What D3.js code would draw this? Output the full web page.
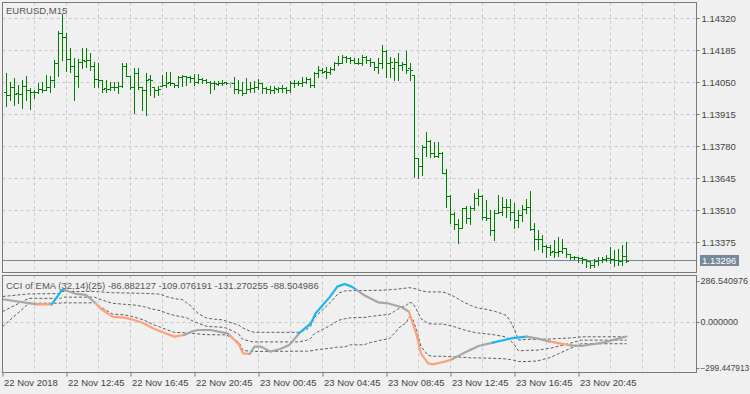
<!DOCTYPE html>
<html>
<head>
<meta charset="utf-8">
<script src="https://cdn.jsdelivr.net/npm/d3@7"></script>
<style>
  body { margin: 0; background: #f0f0f0; }
  svg { display: block; font-family: "Liberation Sans", Arial, sans-serif; }
</style>
</head>
<body>
<svg width="750" height="394"></svg>
<script>
'use strict';

// ---- price data, EURUSD M15, one entry per bar ----
const opens = [
  1.14009,1.13996,1.14031,1.14003,1.14001,1.14034,1.14018,1.14011,1.14009,1.14022,
  1.14018,1.14031,1.14060,1.14131,1.14258,1.14242,1.14148,1.14119,1.14077,1.14137,
  1.14141,1.14144,1.14119,1.14064,1.14060,1.14024,1.14022,1.14030,1.14031,1.14034,
  1.14119,1.14077,1.14031,1.14088,1.14031,1.14018,1.14062,1.14031,1.14018,1.14034,
  1.14039,1.14050,1.14048,1.14039,1.14074,1.14077,1.14074,1.14067,1.14053,1.14063,
  1.14060,1.14053,1.14048,1.14044,1.14046,1.14050,1.14046,1.14046,1.14020,1.14018,
  1.14004,1.14020,1.14027,1.14031,1.14046,1.14025,1.14020,1.14018,1.14023,1.14027,
  1.14025,1.14018,1.14046,1.14048,1.14046,1.14053,1.14063,1.14039,1.14090,1.14102,
  1.14098,1.14095,1.14105,1.14130,1.14133,1.14158,1.14151,1.14144,1.14133,1.14130,
  1.14158,1.14144,1.14137,1.14113,1.14130,1.14183,1.14130,1.14109,1.14137,1.14123,
  1.14127,1.14110,1.14081,1.13731,1.13697,1.13776,1.13802,1.13751,1.13739,1.13753,
  1.13669,1.13570,1.13494,1.13451,1.13434,1.13518,1.13476,1.13518,1.13561,1.13570,
  1.13483,1.13476,1.13427,1.13500,1.13504,1.13525,1.13523,1.13504,1.13469,1.13490,
  1.13514,1.13523,1.13430,1.13391,1.13388,1.13359,1.13354,1.13338,1.13335,1.13338,
  1.13350,1.13326,1.13315,1.13312,1.13308,1.13303,1.13296,1.13279,1.13296,1.13300,
  1.13303,1.13308,1.13303,1.13300,1.13296,1.13317
];
const highs = [
  1.14091,1.14053,1.14068,1.14039,1.14060,1.14077,1.14026,1.14018,1.14047,1.14051,
  1.14081,1.14077,1.14144,1.14268,1.14338,1.14259,1.14195,1.14152,1.14148,1.14196,
  1.14195,1.14174,1.14137,1.14131,1.14060,1.14060,1.14053,1.14053,1.14053,1.14131,
  1.14131,1.14077,1.14110,1.14110,1.14031,1.14089,1.14081,1.14031,1.14034,1.14081,
  1.14095,1.14095,1.14048,1.14077,1.14081,1.14077,1.14077,1.14084,1.14085,1.14067,
  1.14063,1.14057,1.14057,1.14057,1.14060,1.14053,1.14053,1.14074,1.14060,1.14053,
  1.14067,1.14053,1.14057,1.14063,1.14048,1.14029,1.14034,1.14034,1.14031,1.14039,
  1.14031,1.14057,1.14060,1.14057,1.14074,1.14074,1.14067,1.14095,1.14119,1.14109,
  1.14116,1.14116,1.14137,1.14161,1.14165,1.14161,1.14158,1.14151,1.14151,1.14165,
  1.14161,1.14151,1.14137,1.14152,1.14207,1.14186,1.14158,1.14152,1.14174,1.14137,
  1.14183,1.14130,1.14081,1.13731,1.13786,1.13842,1.13807,1.13799,1.13799,1.13757,
  1.13684,1.13575,1.13504,1.13473,1.13520,1.13528,1.13528,1.13583,1.13600,1.13575,
  1.13553,1.13511,1.13511,1.13575,1.13567,1.13558,1.13558,1.13542,1.13511,1.13532,
  1.13558,1.13593,1.13456,1.13427,1.13406,1.13364,1.13364,1.13385,1.13399,1.13388,
  1.13350,1.13326,1.13317,1.13314,1.13312,1.13303,1.13297,1.13303,1.13314,1.13314,
  1.13321,1.13356,1.13343,1.13345,1.13364,1.13378
];
const lows = [
  1.13950,1.13975,1.13954,1.13963,1.13943,1.13975,1.13937,1.13984,1.14005,1.14009,
  1.14018,1.14009,1.14031,1.14077,1.14144,1.14098,1.14095,1.13975,1.14031,1.14110,
  1.14116,1.14102,1.14030,1.14031,1.14010,1.14010,1.14018,1.14018,1.14006,1.14031,
  1.14077,1.14022,1.13920,1.14022,1.13933,1.13912,1.13996,1.13989,1.13996,1.14034,
  1.14031,1.14039,1.14029,1.14031,1.14034,1.14039,1.14053,1.14039,1.14048,1.14048,
  1.14046,1.14006,1.14020,1.14039,1.14039,1.14043,1.14031,1.14004,1.14004,1.13996,
  1.14004,1.14010,1.14010,1.14020,1.14004,1.14006,1.14004,1.14004,1.14010,1.14010,
  1.14004,1.14010,1.14031,1.14039,1.14034,1.14046,1.14031,1.14031,1.14074,1.14088,
  1.14067,1.14085,1.14102,1.14123,1.14130,1.14137,1.14130,1.14130,1.14127,1.14123,
  1.14130,1.14119,1.14102,1.14090,1.14110,1.14074,1.14074,1.14060,1.14060,1.14102,
  1.14088,1.14060,1.13652,1.13646,1.13659,1.13739,1.13736,1.13736,1.13736,1.13669,
  1.13525,1.13458,1.13431,1.13372,1.13434,1.13458,1.13452,1.13511,1.13532,1.13473,
  1.13469,1.13406,1.13385,1.13499,1.13490,1.13483,1.13469,1.13435,1.13441,1.13466,
  1.13499,1.13427,1.13343,1.13347,1.13335,1.13312,1.13321,1.13314,1.13317,1.13331,
  1.13314,1.13303,1.13303,1.13293,1.13289,1.13270,1.13265,1.13272,1.13279,1.13293,
  1.13297,1.13286,1.13275,1.13279,1.13279,1.13293
];
const closes = [
  1.13996,1.14031,1.14001,1.14001,1.14034,1.14018,1.14009,1.14009,1.14022,1.14018,
  1.14031,1.14060,1.14131,1.14258,1.14242,1.14148,1.14119,1.14077,1.14137,1.14144,
  1.14144,1.14119,1.14064,1.14060,1.14022,1.14022,1.14030,1.14031,1.14034,1.14119,
  1.14077,1.14031,1.14088,1.14031,1.14018,1.14060,1.14060,1.14018,1.14020,1.14039,
  1.14048,1.14048,1.14039,1.14074,1.14077,1.14074,1.14067,1.14053,1.14063,1.14060,
  1.14053,1.14048,1.14046,1.14046,1.14048,1.14048,1.14046,1.14020,1.14018,1.14004,
  1.14020,1.14027,1.14031,1.14046,1.14025,1.14020,1.14018,1.14025,1.14025,1.14025,
  1.14018,1.14046,1.14048,1.14046,1.14053,1.14063,1.14039,1.14090,1.14102,1.14095,
  1.14095,1.14105,1.14133,1.14133,1.14158,1.14151,1.14144,1.14133,1.14130,1.14158,
  1.14144,1.14137,1.14113,1.14130,1.14183,1.14130,1.14137,1.14137,1.14123,1.14127,
  1.14102,1.14102,1.13731,1.13697,1.13776,1.13802,1.13751,1.13739,1.13753,1.13669,
  1.13570,1.13494,1.13451,1.13434,1.13518,1.13476,1.13518,1.13561,1.13570,1.13483,
  1.13476,1.13427,1.13500,1.13504,1.13525,1.13523,1.13504,1.13469,1.13490,1.13514,
  1.13523,1.13430,1.13388,1.13388,1.13359,1.13354,1.13335,1.13335,1.13338,1.13350,
  1.13326,1.13312,1.13312,1.13308,1.13303,1.13296,1.13279,1.13296,1.13300,1.13303,
  1.13308,1.13303,1.13300,1.13296,1.13317,1.13296
];

const priceTicks = [1.14320, 1.14185, 1.14050, 1.13915, 1.13780, 1.13645, 1.13510, 1.13375];

const timeBars = [-1, 15, 31, 47, 63, 79, 95, 111, 127, 143];
const timeLabels = ['22 Nov 2018', '22 Nov 12:45', '22 Nov 16:45', '22 Nov 20:45', '23 Nov 00:45',
  '23 Nov 04:45', '23 Nov 08:45', '23 Nov 12:45', '23 Nov 16:45', '23 Nov 20:45'];

// ---- CCI of EMA, read as [bar, value] vertices ----
const cci = [
  [-1,143],[7.7,112],[11.3,112],[13.9,200.5],[14.5,200],[17.5,175.8],[19.9,169.6],[22.3,118.2],
  [23.7,81.2],[26.5,35.9],[29.5,29.8],[31.9,15.4],[34.3,-5.2],[36.6,-36.1],[39,-60.8],[42,-87.5],
  [44.4,-77.2],[46.2,-56.6],[48,-46.4],[51,-46.4],[55.2,-66.9],[55.8,-77.2],[58.2,-138.9],
  [59.1,-190.4],[60.8,-194.5],[62,-149.2],[63.6,-149.2],[66,-180.1],[68.4,-163.6],[70.7,-138.9],
  [72.5,-87.5],[73.1,-66.9],[76.1,-5.2],[77.3,56.5],[80.9,159.3],[82.7,221],[84.5,237.5],
  [86.3,221],[87.5,200.5],[89.3,169.6],[92.9,124.4],[95.3,118.2],[98.8,93.5],[100.6,66.8],
  [102.4,-66.9],[103.6,-190.4],[105.4,-252.1],[106.6,-258.2],[109.6,-241.8],[111.4,-227.4],
  [115,-180.1],[118,-145.1],[121.6,-124.5],[126.1,-97.8],[130,-87.5],[132.6,-97.8],
  [135.9,-118.4],[141,-141],[143.7,-145.1],[149.1,-124.5],[155,-86.882127]
];
// colour of each segment starting at the vertex: g grey, o below level, b above level
const cciState = 'gobbgggooooooooogggggoooggggggg' + 'bbbbbbbgggggoooooogggbbggoggg';

const levelUp = [
  [-1,160],[5.6,176],[13.5,178],[14,191],[22,191],[26.5,183.6],[34.3,179.5],[38.5,174.5],
  [40,159.5],[42,147],[44,140],[45,122],[46,104],[47,77],[48,54],[50,27],[52,20],[54,16],[55,7],
  [58,-16],[59,-32.5],[61,-55],[62,-61],[73,-61],[75,-44],[76,-24],[77,31],[81,124],[83,180],
  [84.5,194],[86,196],[90,197],[94,199],[97,204],[99,209],[100.6,215],[102.4,207],[103.6,195],
  [105.4,188.5],[109,188],[110,181],[112,159],[114,129],[116,105],[118,88.5],[120,80],[122,69],
  [124,53],[125,42],[126,6],[127,-44],[128,-108.6],[130,-104.5],[136,-102],[138,-99],[140,-97],
  [142,-93],[143.7,-88.504986],[155,-88.504986]
];
const levelMid = [
  [-1,67],[5.6,149],[13.5,148],[14,156],[22,156],[23.7,140.5],[26.5,118],[31.9,107.5],[34.3,97.5],
  [36.6,82],[38.5,72.5],[40,57.5],[42,43],[45,29],[47,4],[50,-24],[54,-30],[55,-35],[58,-70.5],
  [59,-102.5],[61,-117],[62,-120],[73,-120],[75,-110],[76,-99.5],[77,-69],[81,-17.5],[83,13.5],
  [84.5,22],[86,29],[90,32],[91,37],[94,46],[95.6,49],[97,69],[98,85],[99,96],[100,105],
  [100.6,124],[101.5,119],[102.4,85],[103.6,24],[105.4,-7],[106.6,-10],[109,-10],[110,-14],
  [112,-26.5],[114,-43],[116,-56.5],[118,-65.5],[120,-70],[122,-76.5],[124,-85],[125,-91.5],
  [126,-111.5],[127,-139],[128,-175],[130,-172.8],[132.6,-171],[134,-166],[136,-159],[138,-146],
  [140,-134],[141,-128],[142,-120],[143.7,-109.076191],[155,-109.076191]
];
const levelDn = [
  [-1,-26],[5.6,118],[13.5,119],[14,121],[22,121],[23.7,93],[26.5,52],[29.5,47],[31.9,33.5],
  [34.3,15.5],[36.6,-12],[38.5,-29.5],[40,-44.5],[42,-61.5],[45,-64],[47,-69],[50,-75],[55,-77],
  [58.2,-125],[59.1,-172],[61,-178.6],[62,-179],[75,-177],[76.1,-175],[77.3,-169],[80.9,-159],
  [82.7,-152.5],[84.5,-151],[86,-138],[89.3,-138],[91,-124],[94,-107],[95.6,-101],[97,-66],
  [98,-36.5],[99,-17],[100,-0.5],[100.6,33],[101.5,24],[102.4,-36.5],[103.6,-147],[105.4,-203],
  [106.6,-208.5],[109,-208.5],[112,-212],[116,-218],[120,-220],[124,-223],[126,-229],[127,-234],
  [128,-241],[130,-241],[132.6,-238],[134,-229],[136,-216],[138,-193],[140,-171],[141,-160],
  [142,-148],[143.7,-131.270255],[155,-131.270255]
];
const cciMax = 286.540976, cciMin = -299.447913;
const cciTitle = 'CCI of EMA (32,14)(25) -86.882127 -109.076191 -131.270255 -88.504986';

// ---- layout ----
const svg = d3.select('svg');
const frameC = '#7a7a7a', gridC = '#c9c9c9', textC = '#444';
const M = {l: 2.5, r: 696.5, t: 2.5, b: 272.5};
const S = {l: 2.5, r: 696.5, t: 275.5, b: 372.5};

const x = d3.scaleLinear().domain([0, 155]).range([6.5, 626.5]);
const y = d3.scaleLinear().domain([1.13375, 1.14320]).range([242.3, 18.3]);
const yc = d3.scaleLinear().domain([cciMin, cciMax]).range([371, 276]);

// grid
const gridBars = d3.range(7, 168, 8);
[M, S].forEach(p => {
  svg.append('g').selectAll('line').data(gridBars).join('line')
      .attr('x1', d => x(d)).attr('x2', d => x(d))
      .attr('y1', p.t).attr('y2', p.b)
      .attr('stroke', gridC).attr('stroke-dasharray', '3,3');
});
svg.append('g').selectAll('line').data(priceTicks).join('line')
    .attr('x1', M.l).attr('x2', M.r)
    .attr('y1', d => Math.round(y(d)) + 0.5).attr('y2', d => Math.round(y(d)) + 0.5)
    .attr('stroke', gridC).attr('stroke-dasharray', '3,3');
svg.append('line')
    .attr('x1', S.l).attr('x2', S.r)
    .attr('y1', Math.round(yc(0)) + 0.5).attr('y2', Math.round(yc(0)) + 0.5)
    .attr('stroke', gridC).attr('stroke-dasharray', '3,3');

// current price line
const last = closes[closes.length - 1];
svg.append('line')
    .attr('x1', M.l).attr('x2', M.r)
    .attr('y1', Math.round(y(last)) - 0.5).attr('y2', Math.round(y(last)) - 0.5)
    .attr('stroke', '#778899');

// OHLC bars
const bars = svg.append('g').attr('shape-rendering', 'crispEdges');
const py = v => Math.round(y(v));
opens.forEach((o, i) => {
  const col = o === closes[i] ? '#a8a8a8' : '#008000';
  const cx = x(i) - 0.5;
  bars.append('rect').attr('x', cx).attr('width', 1)
      .attr('y', py(highs[i])).attr('height', py(lows[i]) - py(highs[i]) + 1).attr('fill', col);
  bars.append('rect').attr('x', cx - 2).attr('width', 2)
      .attr('y', py(o)).attr('height', 1).attr('fill', col);
  bars.append('rect').attr('x', cx + 1).attr('width', 2)
      .attr('y', py(closes[i])).attr('height', 1).attr('fill', col);
});

// indicator
svg.append('clipPath').attr('id', 'subclip').append('rect')
    .attr('x', S.l).attr('y', S.t).attr('width', S.r - S.l).attr('height', S.b - S.t);
const ind = svg.append('g').attr('clip-path', 'url(#subclip)');
const line = d3.line().x(d => x(d[0])).y(d => yc(d[1]));

[levelUp, levelMid, levelDn].forEach(lv => {
  ind.append('path').attr('d', line(lv))
      .attr('fill', 'none').attr('stroke', '#5e5e5e').attr('stroke-width', 1)
      .attr('stroke-dasharray', '3,2');
});

const stateColor = {g: '#a6a6a6', o: '#ffa07a', b: '#1ab8f0'};
const runs = [];
cci.forEach((p, k) => {
  if (k === cci.length - 1) return;
  const s = cciState[k];
  if (!runs.length || runs[runs.length - 1].s !== s) runs.push({s, pts: [p]});
  runs[runs.length - 1].pts.push(cci[k + 1]);
});
runs.forEach(r => {
  ind.append('path').attr('d', line(r.pts))
      .attr('fill', 'none').attr('stroke', stateColor[r.s]).attr('stroke-width', 2.2)
      .attr('stroke-linejoin', 'round').attr('stroke-linecap', 'round');
});

// frames
[M, S].forEach(p => {
  svg.append('rect').attr('x', p.l).attr('y', p.t)
      .attr('width', p.r - p.l).attr('height', p.b - p.t)
      .attr('fill', 'none').attr('stroke', frameC);
});

// price axis
const pAxis = svg.append('g').attr('transform', `translate(${M.r},0.5)`)
    .call(d3.axisRight(y).tickValues(priceTicks).tickFormat(d3.format('.5f')).tickSize(3).tickPadding(2));
pAxis.select('.domain').remove();
pAxis.selectAll('.tick').attr('transform', d => `translate(0,${Math.round(y(d))})`);
pAxis.selectAll('line').attr('stroke', frameC);
pAxis.selectAll('text').attr('fill', textC).attr('font-size', 9.5).attr('font-family', null);

// current price tag
const tagY = y(last);
svg.append('rect').attr('x', 700).attr('y', Math.round(tagY) - 6).attr('width', 39).attr('height', 11)
    .attr('fill', '#778899');
svg.append('text').attr('x', 702).attr('y', tagY).attr('dy', '0.35em')
    .attr('font-size', 9.5).attr('fill', '#fff').text(d3.format('.5f')(last));

// indicator axis
const cAxis = svg.append('g').attr('transform', `translate(${S.r},0.5)`)
    .call(d3.axisRight(yc).tickValues([cciMax, 0, cciMin]).tickFormat(d3.format('.6f')).tickSize(3).tickPadding(1));
cAxis.select('.domain').remove();
cAxis.selectAll('.tick').attr('transform', d => {
  const off = d === cciMax ? 5 : d === cciMin ? -3 : 0;
  return `translate(0,${Math.round(yc(d)) + off})`;
});
cAxis.selectAll('line').attr('stroke', frameC);
cAxis.selectAll('text').attr('fill', textC).attr('font-family', null)
    .attr('font-size', d => d === cciMin ? 8.3 : 9);

// time axis
const tAxis = svg.append('g').attr('transform', `translate(0,${S.b})`)
    .call(d3.axisBottom(x).tickValues(timeBars).tickFormat((d, i) => timeLabels[i]).tickSize(4).tickPadding(3));
tAxis.select('.domain').remove();
tAxis.selectAll('line').attr('stroke', frameC);
tAxis.selectAll('text').attr('text-anchor', 'start').attr('dx', 1)
    .attr('fill', textC).attr('font-size', 9.5).attr('font-family', null);

// titles
svg.append('text').attr('x', 6).attr('y', 13.5).attr('font-size', 9.5).attr('fill', '#555')
    .text('EURUSD,M15');
svg.append('text').attr('x', 6).attr('y', 288.5).attr('font-size', 9.5).attr('fill', '#555')
    .text(cciTitle);
</script>
</body>
</html>
